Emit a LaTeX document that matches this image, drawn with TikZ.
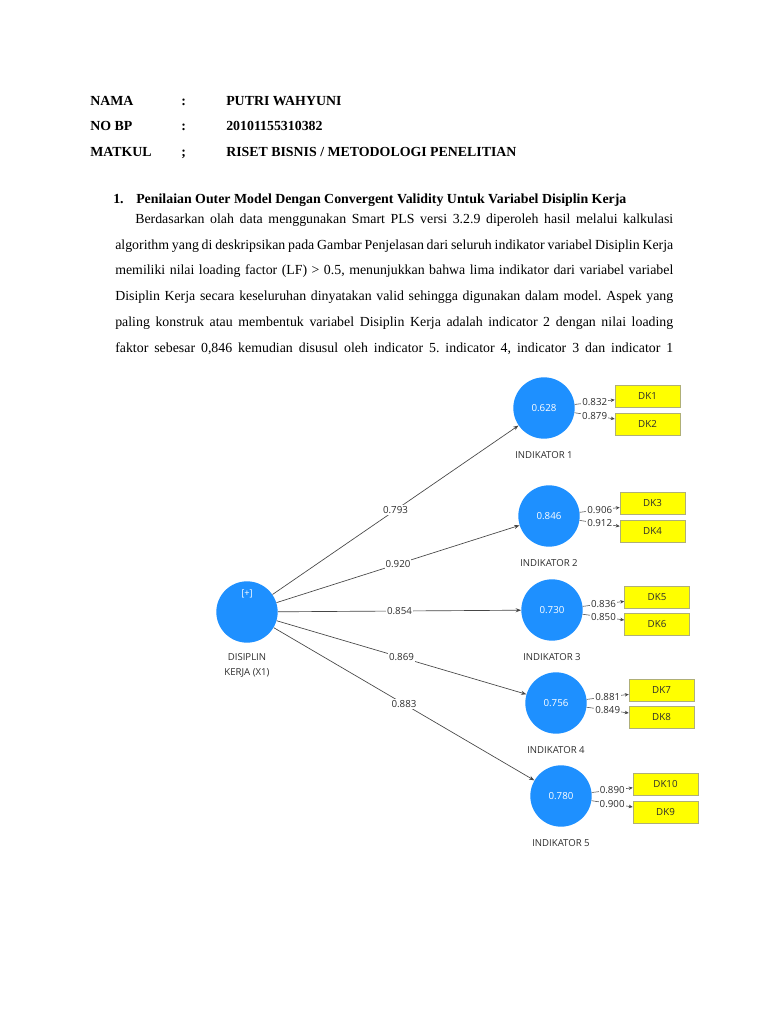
\documentclass[tikz,border=0pt]{standalone}
\usepackage{fontspec}
\setmainfont{Liberation Serif}
\newfontfamily\plsfont{Open Sans}
\usetikzlibrary{arrows.meta,positioning}
\definecolor{plsblue}{RGB}{30,144,255}
\definecolor{mvyellow}{RGB}{255,255,0}
\definecolor{mvborder}{RGB}{175,175,120}
\definecolor{plsline}{RGB}{70,70,70}
\definecolor{plstext}{RGB}{45,45,45}
\frenchspacing
% one justified line of the paragraph
\newcommand{\jline}[2]{\makebox[#1][s]{#2}}

\begin{document}
\begin{tikzpicture}[x=0.75pt,y=-0.75pt,
    txt/.style={anchor=base west,inner sep=0pt,font=\fontsize{10.4}{12}\selectfont},
    hdr/.style={anchor=base west,inner sep=0pt,font=\fontsize{10.4}{12}\selectfont\bfseries},
    latent/.style={circle,fill=plsblue,minimum size=46pt,inner sep=0pt,text=white,font=\plsfont\fontsize{7.3}{8}\selectfont},
    manifest/.style={draw=mvborder,fill=mvyellow,minimum width=48.75pt,minimum height=16.5pt,inner sep=0pt,text=plstext,font=\plsfont\fontsize{7.3}{8}\selectfont},
    caption/.style={align=center,inner sep=1pt,text=plstext,font=\plsfont\fontsize{7.2}{11}\selectfont},
    coef/.style={fill=white,inner sep=0.8pt,text=plstext,font=\plsfont\fontsize{7.3}{8}\selectfont},
    pathline/.style={draw=plsline,line width=0.5pt,-{Stealth[length=4pt,width=3pt]}},
    loadline/.style={draw=plsline,line width=0.4pt,-{Stealth[length=3pt,width=2.6pt]}}]

    \fill[white] (0,0) rectangle (768,1024);
    \useasboundingbox (0,0) rectangle (768,1024);

    % identity block
    \node[hdr] (nama) at (90,105) {NAMA};
    \node[hdr] (namasep) at (181,105) {:};
    \node[hdr] (namaval) at (226,105) {PUTRI WAHYUNI};
    \node[hdr] (nobp) at (90,130.5) {NO BP};
    \node[hdr] (nobpsep) at (181,130.5) {:};
    \node[hdr] (nobpval) at (226,130.5) {20101155310382};
    \node[hdr] (matkul) at (90,156) {MATKUL};
    \node[hdr] (matkulsep) at (181,156) {;};
    \node[hdr] (matkulval) at (226,156) {RISET BISNIS / METODOLOGI PENELITIAN};

    % heading and paragraph
    \node[hdr] (num) at (113,203.5) {1.};
    \node[hdr] (title) at (136,203.5) {Penilaian Outer Model Dengan Convergent Validity Untuk Variabel Disiplin Kerja};
    \node[txt] (par1) at (135,223.5) {\jline{403.5pt}{Berdasarkan olah data menggunakan Smart PLS versi 3.2.9 diperoleh hasil melalui kalkulasi}};
    \node[txt] (par2) at (115,249.2) {\jline{418.5pt}{algorithm yang di deskripsikan pada Gambar Penjelasan dari seluruh indikator variabel Disiplin Kerja}};
    \node[txt] (par3) at (115,274.9) {\jline{418.5pt}{memiliki nilai loading factor (LF) > 0.5, menunjukkan bahwa lima indikator dari variabel variabel}};
    \node[txt] (par4) at (115,300.6) {\jline{418.5pt}{Disiplin Kerja secara keseluruhan dinyatakan valid sehingga digunakan dalam model. Aspek yang}};
    \node[txt] (par5) at (115,326.3) {\jline{418.5pt}{paling konstruk atau membentuk variabel Disiplin Kerja adalah indicator 2 dengan nilai loading}};
    \node[txt] (par6) at (115,352) {\jline{418.5pt}{faktor sebesar 0,846 kemudian disusul oleh indicator 5. indicator 4, indicator 3 dan indicator 1}};

    % model
    \node[latent] (disiplin) at (247,612) {};
    \node[text=white,inner sep=0pt,font=\plsfont\fontsize{7}{8}\selectfont] (disiplinplus) at (247,594) {[+]};
    \node[caption,below=7pt of disiplin] (disiplintxt) {DISIPLIN\\KERJA (X1)};

    \node[latent] (ind1) at (544,408) {0.628};
    \node[latent] (ind2) at (549,516) {0.846};
    \node[latent] (ind3) at (552,610) {0.730};
    \node[latent] (ind4) at (556,703) {0.756};
    \node[latent] (ind5) at (561,796) {0.780};
    \node[caption,below=8pt of ind1] (ind1txt) {INDIKATOR 1};
    \node[caption,below=8pt of ind2] (ind2txt) {INDIKATOR 2};
    \node[caption,below=8pt of ind3] (ind3txt) {INDIKATOR 3};
    \node[caption,below=8pt of ind4] (ind4txt) {INDIKATOR 4};
    \node[caption,below=8pt of ind5] (ind5txt) {INDIKATOR 5};

    \node[manifest] (dk1) at (647.5,396) {DK1};
    \node[manifest] (dk2) at (647.5,424) {DK2};
    \node[manifest] (dk3) at (652.5,503.5) {DK3};
    \node[manifest] (dk4) at (652.5,531) {DK4};
    \node[manifest] (dk5) at (657,597.5) {DK5};
    \node[manifest] (dk6) at (657,624.5) {DK6};
    \node[manifest] (dk7) at (661.5,690.5) {DK7};
    \node[manifest] (dk8) at (661.5,717.5) {DK8};
    \node[manifest] (dk10) at (665.5,784) {DK10};
    \node[manifest] (dk9) at (665.5,812) {DK9};

    \draw[pathline] (disiplin) -- node[coef] (p1) {0.793} (ind1);
    \draw[pathline] (disiplin) -- node[coef] (p2) {0.920} (ind2);
    \draw[pathline] (disiplin) -- node[coef] (p3) {0.854} (ind3);
    \draw[pathline] (disiplin) -- node[coef] (p4) {0.869} (ind4);
    \draw[pathline] (disiplin) -- node[coef] (p5) {0.883} (ind5);

    \draw[loadline] (ind1) -- node[coef] (l1) {0.832} (dk1);
    \draw[loadline] (ind1) -- node[coef] (l2) {0.879} (dk2);
    \draw[loadline] (ind2) -- node[coef] (l3) {0.906} (dk3);
    \draw[loadline] (ind2) -- node[coef] (l4) {0.912} (dk4);
    \draw[loadline] (ind3) -- node[coef] (l5) {0.836} (dk5);
    \draw[loadline] (ind3) -- node[coef] (l6) {0.850} (dk6);
    \draw[loadline] (ind4) -- node[coef] (l7) {0.881} (dk7);
    \draw[loadline] (ind4) -- node[coef] (l8) {0.849} (dk8);
    \draw[loadline] (ind5) -- node[coef] (l10) {0.890} (dk10);
    \draw[loadline] (ind5) -- node[coef] (l9) {0.900} (dk9);
\end{tikzpicture}
\end{document}
